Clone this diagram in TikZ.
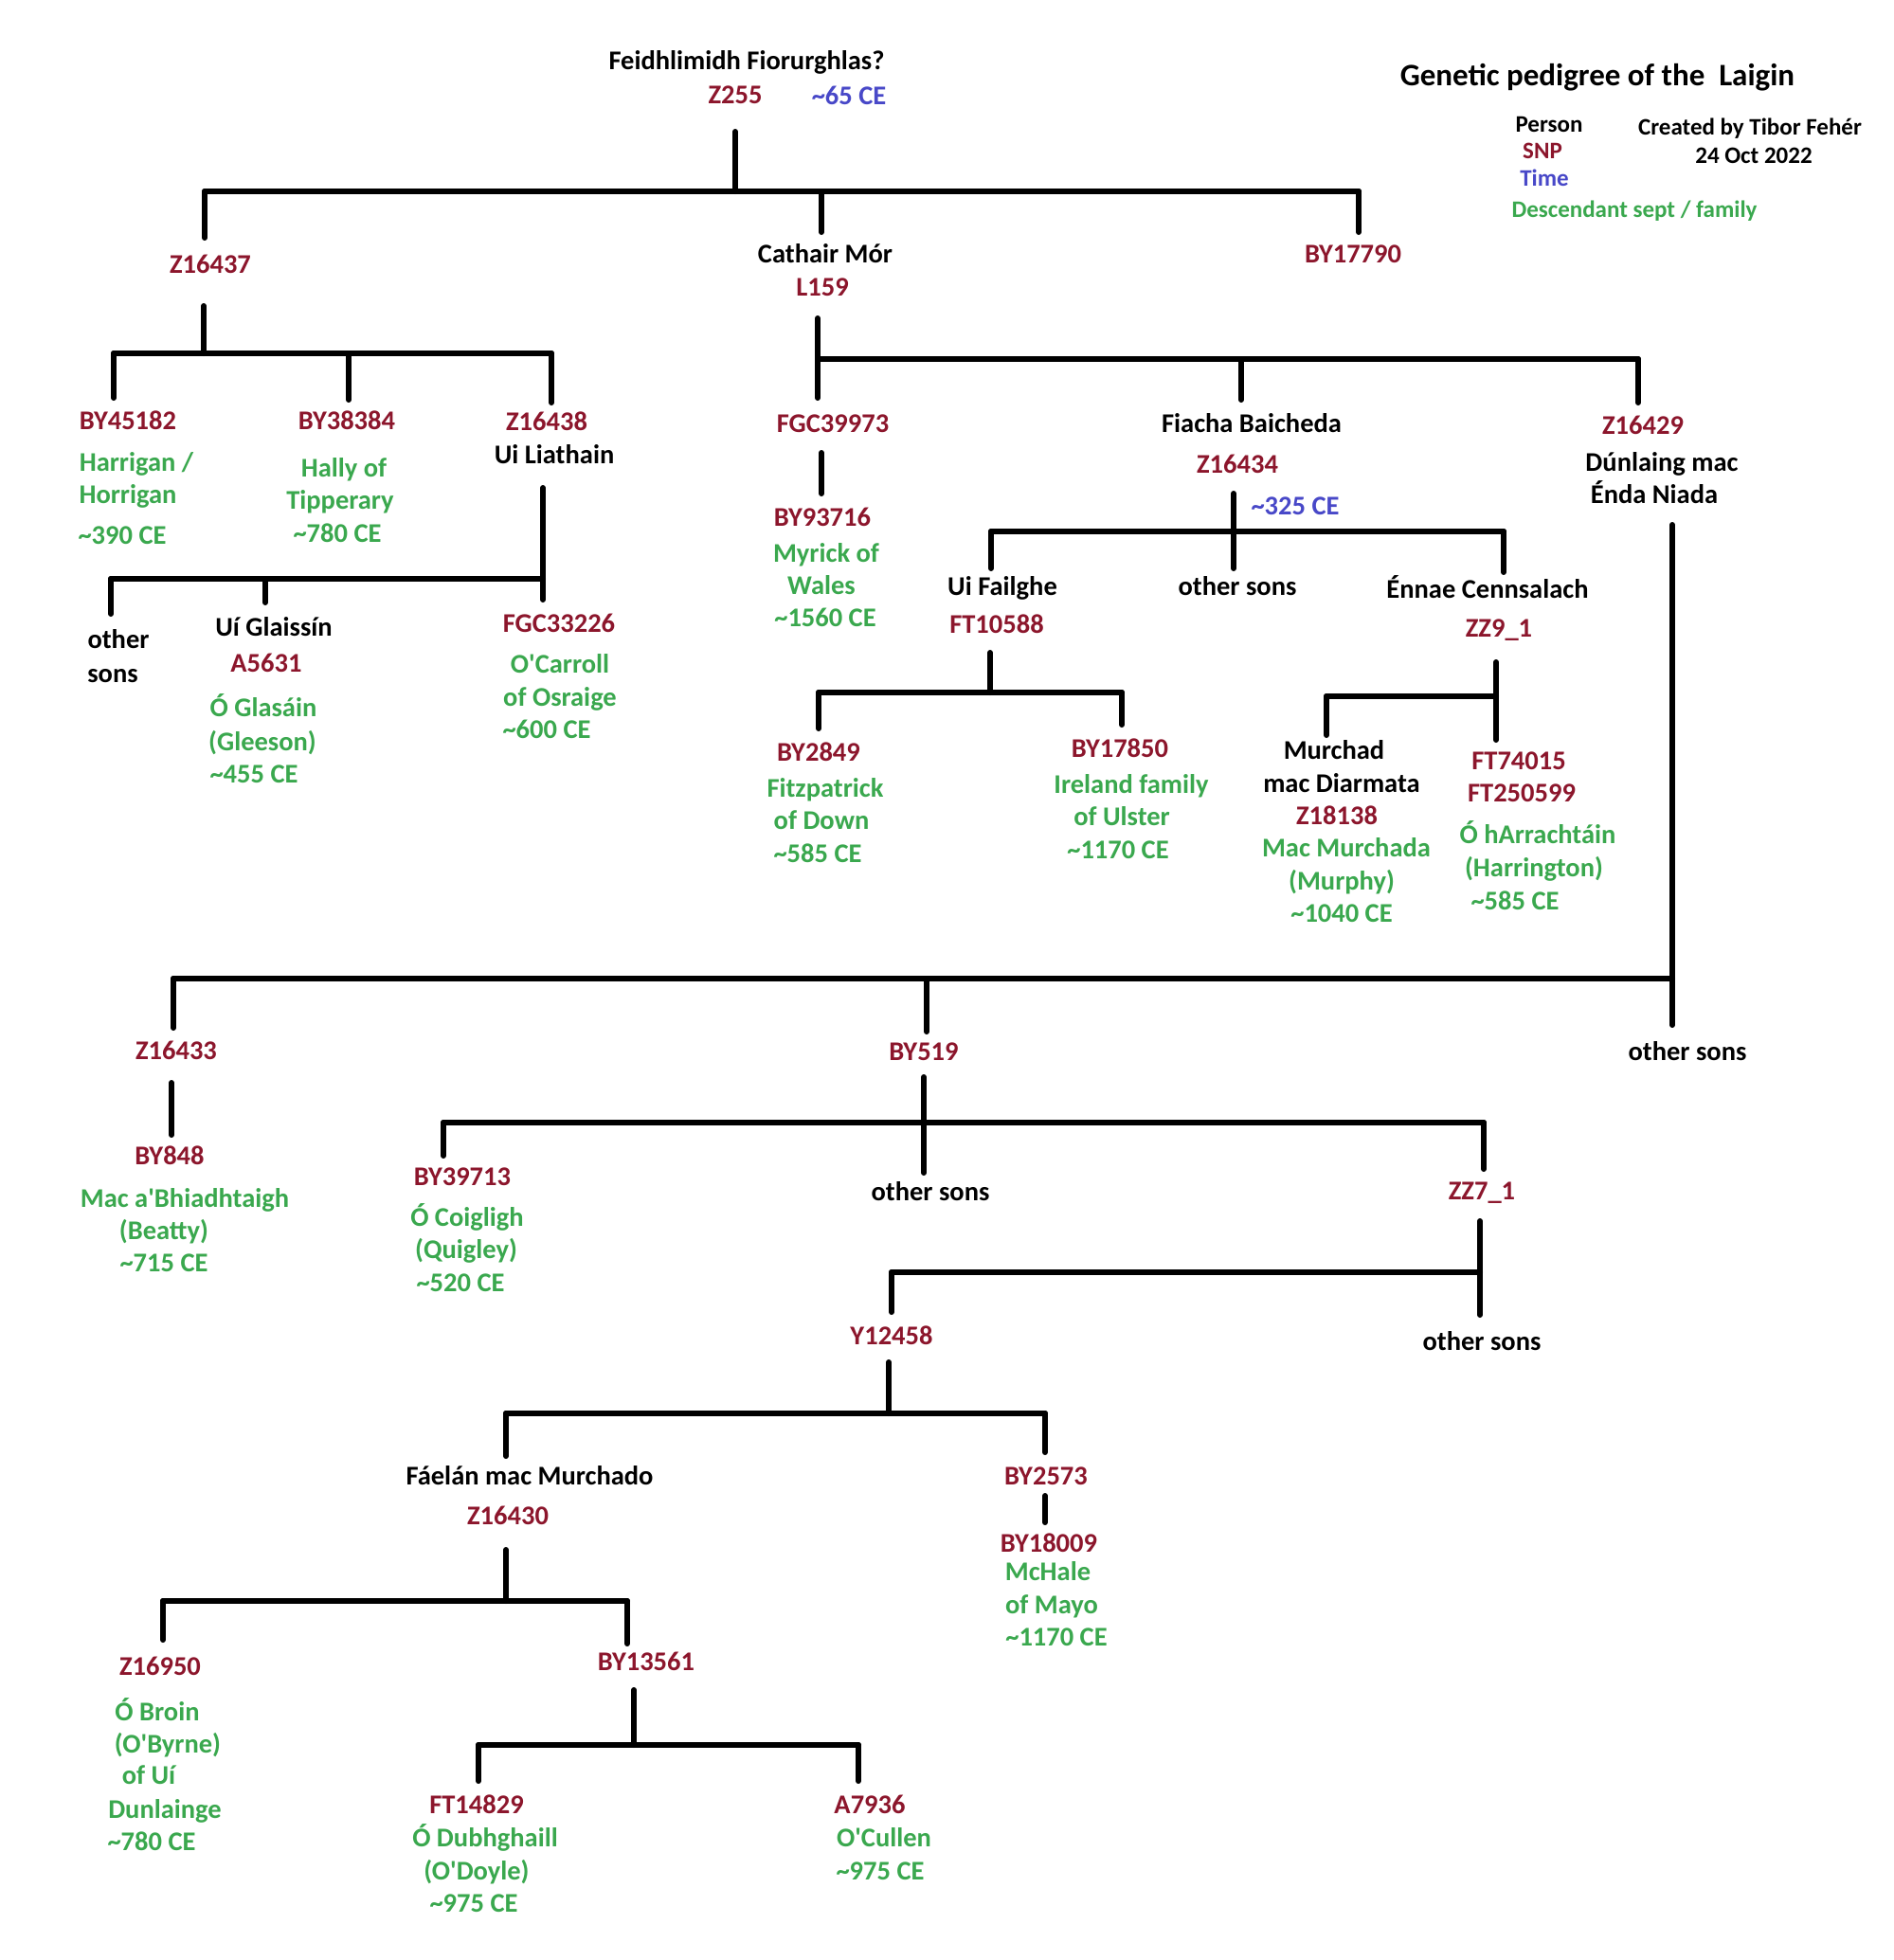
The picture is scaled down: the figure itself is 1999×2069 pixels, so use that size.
\documentclass[tikz,border=0pt]{standalone}
\usepackage{fontspec}
\setmainfont{Carlito}
\definecolor{snpred}{RGB}{140,22,44}
\definecolor{famgreen}{RGB}{58,168,78}
\definecolor{timeblue}{RGB}{72,72,200}
\newcommand{\ap}{\textquotesingle}
\begin{document}
\begin{tikzpicture}[x=1pt,y=-1pt,
  every node/.style={font=\fontsize{28.5}{34}\selectfont\bfseries, inner sep=0pt, text height=0.63em, text depth=0pt},
  per/.style={text=black, yshift=-4pt},
  snp/.style={text=snpred, yshift=-4pt},
  tcol/.style={text=timeblue, yshift=-4pt},
  fam/.style={text=famgreen, yshift=-4pt},
  legend/.style={font=\fontsize{25}{30}\selectfont\bfseries},
  tree/.style={line width=6pt, line cap=round}]
\fill[white] (0,0) rectangle (1999,2069);
\useasboundingbox (0,0) rectangle (1999,2069);

% ---------- title and legend ----------
\node[per, font=\fontsize{33}{38}\selectfont\bfseries] (title) at (1686,83) {Genetic pedigree of the\ \ Laigin};
\node[per, legend] (lgperson) at (1635,132) {Person};
\node[snp, legend] (lgsnp) at (1628,160) {SNP};
\node[tcol, legend] (lgtime) at (1630,189) {Time};
\node[fam, legend] (lgfam) at (1725,222) {Descendant sept / family};
\node[per, legend] (lgby) at (1847,135) {Created by Tibor Fehér};
\node[per, legend] (lgdate) at (1851,165) {24 Oct 2022};

% ---------- root ----------
\node[per] (feid) at (788,66) {Feidhlimidh Fiorurghlas?};
\node[snp] (z255) at (776,102) {Z255};
\node[tcol] (z255t) at (896,103) {\textasciitilde 65 CE};
\coordinate (r0) at (776,139); \coordinate (r1) at (776,202);
\coordinate (rL) at (216,202); \coordinate (rR) at (1434,202);
\coordinate (rM) at (867,202);
\coordinate (rd1) at (216,251); \coordinate (rd2) at (867,245); \coordinate (rd3) at (1434,245);
\draw[tree] (r0) -- (r1);
\draw[tree] (rL) -- (rR);
\draw[tree] (rL) -- (rd1);
\draw[tree] (rM) -- (rd2);
\draw[tree] (rR) -- (rd3);

\node[snp] (z16437) at (222,281) {Z16437};
\node[per] (cathair) at (871,270) {Cathair Mór};
\node[snp] (l159) at (868,305) {L159};
\node[snp] (by17790) at (1428,270) {BY17790};

% ---------- Z16437 ----------
\coordinate (a0) at (215,323); \coordinate (a1) at (215,373);
\coordinate (aL) at (120,373); \coordinate (aM) at (368,373); \coordinate (aR) at (582,373);
\coordinate (ad1) at (120,420); \coordinate (ad2) at (368,422); \coordinate (ad3) at (582,425);
\draw[tree] (a0) -- (a1);
\draw[tree] (aL) -- (aR);
\draw[tree] (aL) -- (ad1);
\draw[tree] (aM) -- (ad2);
\draw[tree] (aR) -- (ad3);

\node[snp] (by45182) at (135,446) {BY45182};
\node[fam] (harr1) at (144,490) {Harrigan /};
\node[fam] (harr2) at (135,524) {Horrigan};
\node[fam] (harr3) at (129,567) {\textasciitilde 390 CE};
\node[snp] (by38384) at (366,446) {BY38384};
\node[fam] (hal1) at (363,496) {Hally of};
\node[fam] (hal2) at (359,530) {Tipperary};
\node[fam] (hal3) at (356,565) {\textasciitilde 780 CE};
\node[snp] (z16438) at (577,447) {Z16438};
\node[per] (uiliath) at (585,482) {Ui Liathain};

\coordinate (b0) at (573,515); \coordinate (b1) at (573,611); \coordinate (b2) at (573,633);
\coordinate (bL) at (117,611); \coordinate (bM) at (280,611);
\coordinate (bd1) at (117,648); \coordinate (bd2) at (280,636);
\draw[tree] (b0) -- (b2);
\draw[tree] (bL) -- (b1);
\draw[tree] (bL) -- (bd1);
\draw[tree] (bM) -- (bd2);

\node[per] (oth1a) at (125,677) {other};
\node[per] (oth1b) at (119,713) {sons};
\node[per] (uiglai) at (289,664) {Uí Glaissín};
\node[snp] (a5631) at (281,702) {A5631};
\node[fam] (gla1) at (278,749) {Ó Glasáin};
\node[fam] (gla2) at (277,785) {(Gleeson)};
\node[fam] (gla3) at (268,819) {\textasciitilde 455 CE};
\node[snp] (fgc33226) at (590,660) {FGC33226};
\node[fam] (oca1) at (591,703) {O\ap Carroll};
\node[fam] (oca2) at (591,738) {of Osraige};
\node[fam] (oca3) at (577,772) {\textasciitilde 600 CE};

% ---------- Cathair Mor ----------
\coordinate (c0) at (863,336); \coordinate (cL) at (863,379);
\coordinate (cL2) at (863,420);
\coordinate (cM) at (1310,379); \coordinate (cR) at (1729,379);
\coordinate (cd2) at (1310,422); \coordinate (cd3) at (1729,425);
\draw[tree] (c0) -- (cL2);
\draw[tree] (cL) -- (cR);
\draw[tree] (cM) -- (cd2);
\draw[tree] (cR) -- (cd3);

\node[snp] (fgc39973) at (879,449) {FGC39973};
\coordinate (f0) at (867,478); \coordinate (f1) at (867,521);
\draw[tree] (f0) -- (f1);
\node[snp] (by93716) at (868,548) {BY93716};
\node[fam] (myr1) at (872,586) {Myrick of};
\node[fam] (myr2) at (867,620) {Wales};
\node[fam] (myr3) at (871,654) {\textasciitilde 1560 CE};

\node[per] (fiacha) at (1321,449) {Fiacha Baicheda};
\node[snp] (z16434) at (1306,492) {Z16434};
\node[tcol] (z16434t) at (1367,536) {\textasciitilde 325 CE};
\coordinate (g0) at (1302,521); \coordinate (g1) at (1302,561); \coordinate (g2) at (1302,600);
\coordinate (gL) at (1046,561); \coordinate (gR) at (1587,561);
\coordinate (gd1) at (1046,600); \coordinate (gd3) at (1587,604);
\draw[tree] (g0) -- (g2);
\draw[tree] (gL) -- (gR);
\draw[tree] (gL) -- (gd1);
\draw[tree] (gR) -- (gd3);

\node[per] (uifail) at (1058,621) {Ui Failghe};
\node[snp] (ft10588) at (1052,661) {FT10588};
\node[per] (oth2) at (1306,621) {other sons};
\node[per] (ennae) at (1570,624) {Énnae Cennsalach};
\node[snp] (zz91) at (1582,665) {ZZ9\_1};

\coordinate (h0) at (1045,689); \coordinate (h1) at (1045,731);
\coordinate (hL) at (864,731); \coordinate (hR) at (1184,731);
\coordinate (hd1) at (864,769); \coordinate (hd2) at (1184,765);
\draw[tree] (h0) -- (h1);
\draw[tree] (hL) -- (hR);
\draw[tree] (hL) -- (hd1);
\draw[tree] (hR) -- (hd2);

\node[snp] (by2849) at (864,796) {BY2849};
\node[fam] (fitz1) at (871,834) {Fitzpatrick};
\node[fam] (fitz2) at (867,868) {of Down};
\node[fam] (fitz3) at (863,903) {\textasciitilde 585 CE};
\node[snp] (by17850) at (1182,792) {BY17850};
\node[fam] (irl1) at (1194,830) {Ireland family};
\node[fam] (irl2) at (1184,864) {of Ulster};
\node[fam] (irl3) at (1180,899) {\textasciitilde 1170 CE};

\coordinate (k0) at (1579,699); \coordinate (k1) at (1579,735); \coordinate (k2) at (1579,781);
\coordinate (kL) at (1400,735); \coordinate (kd1) at (1400,776);
\draw[tree] (k0) -- (k2);
\draw[tree] (kL) -- (k1);
\draw[tree] (kL) -- (kd1);

\node[per] (murch1) at (1408,794) {Murchad};
\node[per] (murch2) at (1416,829) {mac Diarmata};
\node[snp] (z18138) at (1411,863) {Z18138};
\node[fam] (mur1) at (1421,897) {Mac Murchada};
\node[fam] (mur2) at (1416,932) {(Murphy)};
\node[fam] (mur3) at (1416,966) {\textasciitilde 1040 CE};
\node[snp] (ft74015) at (1603,805) {FT74015};
\node[snp] (ft250599) at (1606,839) {FT250599};
\node[fam] (har1) at (1623,883) {Ó hArrachtáin};
\node[fam] (har2) at (1619,918) {(Harrington)};
\node[fam] (har3) at (1599,953) {\textasciitilde 585 CE};

% ---------- Z16429 ----------
\node[snp] (z16429) at (1734,451) {Z16429};
\node[per] (dun1) at (1754,490) {Dúnlaing mac};
\node[per] (dun2) at (1746,524) {Énda Niada};
\coordinate (m0) at (1765,554); \coordinate (m1) at (1765,1033); \coordinate (m2) at (1765,1082);
\coordinate (mL) at (183,1033); \coordinate (mM) at (978,1033);
\coordinate (md1) at (183,1085); \coordinate (md2) at (978,1089);
\draw[tree] (m0) -- (m2);
\draw[tree] (mL) -- (m1);
\draw[tree] (mL) -- (md1);
\draw[tree] (mM) -- (md2);
\node[per] (oth3) at (1781,1112) {other sons};

\node[snp] (z16433) at (186,1111) {Z16433};
\coordinate (n0) at (181,1143); \coordinate (n1) at (181,1198);
\draw[tree] (n0) -- (n1);
\node[snp] (by848) at (179,1222) {BY848};
\node[fam] (bea1) at (195,1267) {Mac a\ap Bhiadhtaigh};
\node[fam] (bea2) at (173,1301) {(Beatty)};
\node[fam] (bea3) at (173,1335) {\textasciitilde 715 CE};

\node[snp] (by519) at (975,1112) {BY519};
\coordinate (p0) at (975,1137); \coordinate (p1) at (975,1185); \coordinate (p2) at (975,1238);
\coordinate (pL) at (468,1185); \coordinate (pR) at (1566,1185);
\coordinate (pd1) at (468,1220); \coordinate (pd3) at (1566,1234);
\draw[tree] (p0) -- (p2);
\draw[tree] (pL) -- (pR);
\draw[tree] (pL) -- (pd1);
\draw[tree] (pR) -- (pd3);

\node[snp] (by39713) at (488,1244) {BY39713};
\node[fam] (qui1) at (493,1287) {Ó Coigligh};
\node[fam] (qui2) at (492,1321) {(Quigley)};
\node[fam] (qui3) at (486,1356) {\textasciitilde 520 CE};
\node[per] (oth4) at (982,1260) {other sons};
\node[snp] (zz71) at (1564,1259) {ZZ7\_1};

\coordinate (q0) at (1562,1289); \coordinate (q1) at (1562,1343); \coordinate (q2) at (1562,1388);
\coordinate (qL) at (941,1343); \coordinate (qd1) at (941,1385);
\draw[tree] (q0) -- (q2);
\draw[tree] (qL) -- (q1);
\draw[tree] (qL) -- (qd1);
\node[per] (oth5) at (1564,1418) {other sons};

\node[snp] (y12458) at (941,1412) {Y12458};
\coordinate (s0) at (938,1438); \coordinate (s1) at (938,1492);
\coordinate (sL) at (534,1492); \coordinate (sR) at (1103,1492);
\coordinate (sd1) at (534,1537); \coordinate (sd2) at (1103,1533);
\draw[tree] (s0) -- (s1);
\draw[tree] (sL) -- (sR);
\draw[tree] (sL) -- (sd1);
\draw[tree] (sR) -- (sd2);

\node[per] (faelan) at (559,1560) {Fáelán mac Murchado};
\node[snp] (z16430) at (536,1602) {Z16430};
\node[snp] (by2573) at (1104,1560) {BY2573};
\coordinate (u0) at (1103,1579); \coordinate (u1) at (1103,1607);
\draw[tree] (u0) -- (u1);
\node[snp] (by18009) at (1107,1631) {BY18009};
\node[fam] (mch1) at (1106,1661) {McHale};
\node[fam] (mch2) at (1110,1696) {of Mayo};
\node[fam] (mch3) at (1115,1730) {\textasciitilde 1170 CE};

\coordinate (v0) at (534,1636); \coordinate (v1) at (534,1690);
\coordinate (vL) at (172,1690); \coordinate (vR) at (662,1690);
\coordinate (vd1) at (172,1731); \coordinate (vd2) at (662,1735);
\draw[tree] (v0) -- (v1);
\draw[tree] (vL) -- (vR);
\draw[tree] (vL) -- (vd1);
\draw[tree] (vR) -- (vd2);

\node[snp] (z16950) at (169,1761) {Z16950};
\node[fam] (bro1) at (166,1809) {Ó Broin};
\node[fam] (bro2) at (177,1843) {(O\ap Byrne)};
\node[fam] (bro3) at (157,1876) {of Uí};
\node[fam] (bro4) at (174,1912) {Dunlainge};
\node[fam] (bro5) at (160,1946) {\textasciitilde 780 CE};

\node[snp] (by13561) at (682,1756) {BY13561};
\coordinate (w0) at (669,1784); \coordinate (w1) at (669,1842);
\coordinate (wL) at (505,1842); \coordinate (wR) at (906,1842);
\coordinate (wd1) at (505,1880); \coordinate (wd2) at (906,1880);
\draw[tree] (w0) -- (w1);
\draw[tree] (wL) -- (wR);
\draw[tree] (wL) -- (wd1);
\draw[tree] (wR) -- (wd2);

\node[snp] (ft14829) at (503,1907) {FT14829};
\node[fam] (doy1) at (512,1942) {Ó Dubhghaill};
\node[fam] (doy2) at (503,1977) {(O\ap Doyle)};
\node[fam] (doy3) at (500,2011) {\textasciitilde 975 CE};
\node[snp] (a7936) at (918,1907) {A7936};
\node[fam] (cul1) at (933,1942) {O\ap Cullen};
\node[fam] (cul2) at (929,1977) {\textasciitilde 975 CE};
\end{tikzpicture}
\end{document}
